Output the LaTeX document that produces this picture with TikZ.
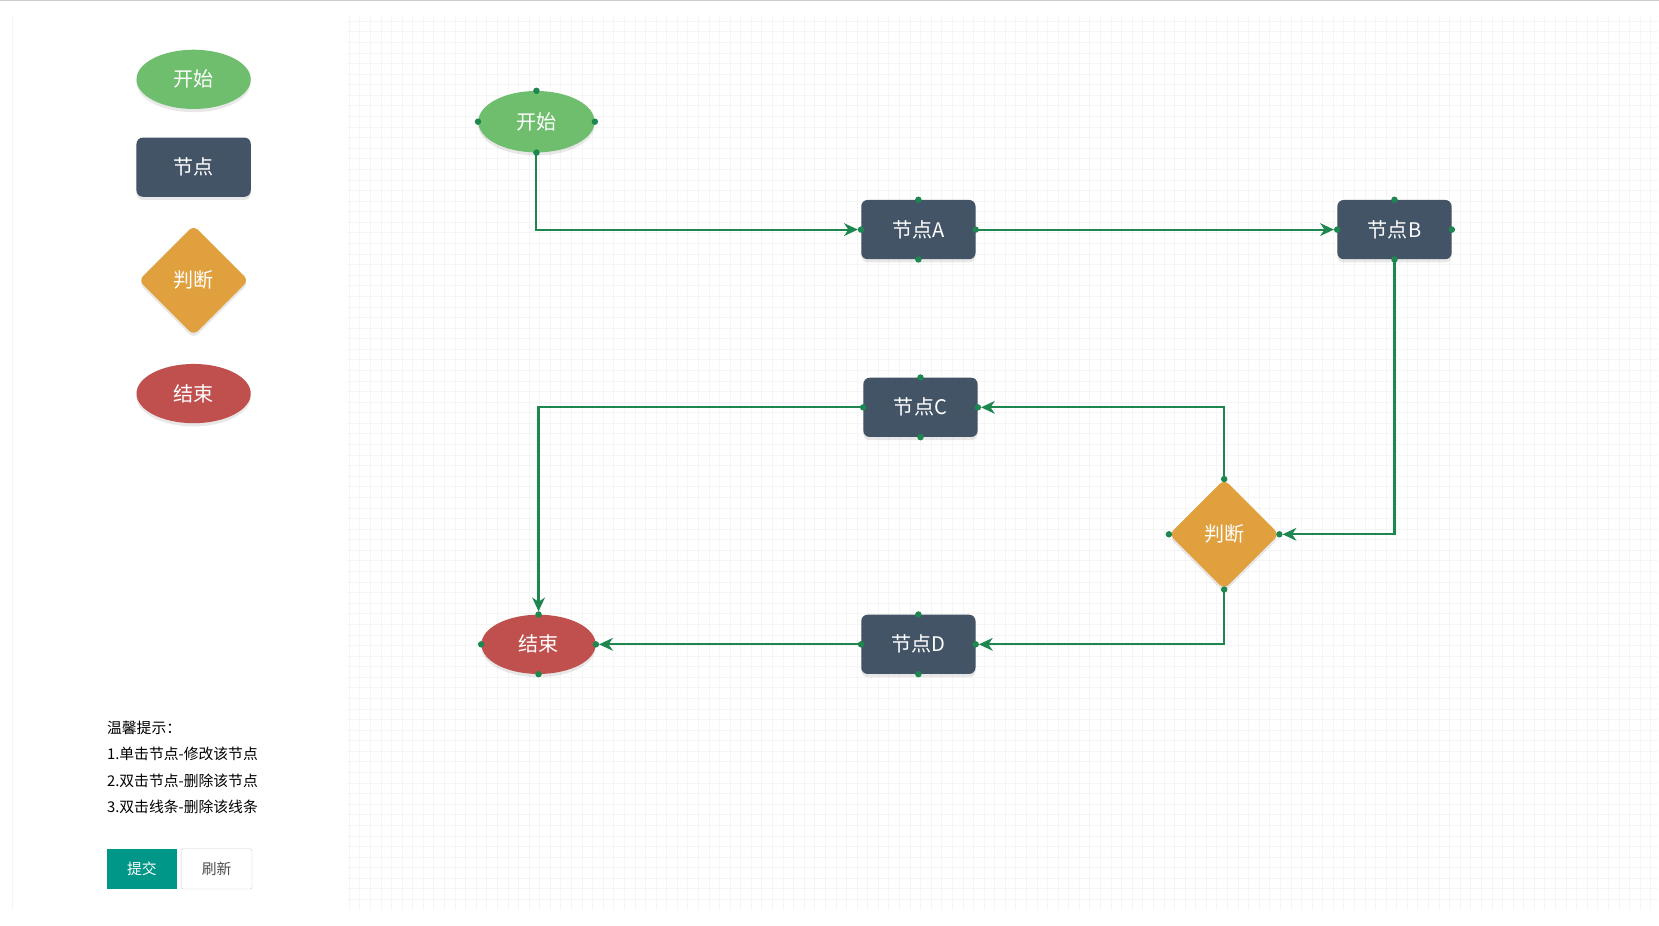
\documentclass[tikz,border=0pt]{standalone}
\usepackage{fontspec}
\setmainfont{Noto Sans CJK SC}
\usetikzlibrary{shapes.geometric,arrows.meta,shadows}
\definecolor{eg}{RGB}{30,135,80}
\definecolor{cstart}{RGB}{110,190,110}
\definecolor{cnode}{RGB}{67,84,102}
\definecolor{cjudge}{RGB}{224,160,62}
\definecolor{cend}{RGB}{192,80,77}
\definecolor{teal}{RGB}{0,150,136}
\tikzset{
 base/.style={text=white,font=\fontsize{19}{19}\selectfont,draw=none,inner sep=0pt,drop shadow={opacity=0.18,shadow xshift=0pt,shadow yshift=-3pt}},
 startn/.style={base,ellipse,fill=cstart,minimum width=108,minimum height=56},
 endn/.style={base,ellipse,fill=cend,minimum width=108,minimum height=56},
 rectn/.style={base,rectangle,rounded corners=6,fill=cnode,minimum width=108,minimum height=56},
 judgen/.style={base,diamond,fill=cjudge,minimum width=104,minimum height=104,rounded corners=6},
 edge/.style={draw=eg,line width=2,-{Stealth[length=13,width=12,inset=4]},shorten >=3},
 port/.style={circle,draw=eg,fill=eg,line width=1,inner sep=0pt,minimum size=5}
}
\begin{document}
\begin{tikzpicture}[x=1pt,y=-1pt]
\useasboundingbox (0,0) rectangle (1568,874.3);
\fill[white] (0,0) rectangle (1568,874.3);
\draw[gray!40] (0,0.5) -- (1568,0.5);
% canvas grid
\begin{scope}
\clip (328,15) rectangle (1567,860);
\foreach \x in {330,340,...,1570} \draw[black!4,line width=0.6] (\x,15) -- (\x,860);
\foreach \y in {20,30,...,860} \draw[black!4,line width=0.6] (328,\y) -- (1567,\y);
\end{scope}
\draw[black!4] (12,15) -- (12,860);
% palette
\node[startn] (p1) at (183,75) {开始};
\node[rectn] (p2) at (183,158) {节点};
\node[judgen] (p3) at (183,265) {判断};
\node[endn] (p4) at (183,372) {结束};
% canvas nodes
\node[startn,minimum width=110,minimum height=58] (s) at (507,115) {开始};
\node[rectn] (a) at (868,217) {节点A};
\node[rectn] (b) at (1318,217) {节点B};
\node[rectn] (c) at (870,385) {节点C};
\node[judgen] (j) at (1157,505) {判断};
\node[rectn] (d) at (868,609) {节点D};
\node[endn] (e) at (509,609) {结束};
% edges
\draw[edge] (s.south) |- (a.west);
\draw[edge] (a.east) -- (b.west);
\draw[edge] (b.south) |- (j.east);
\draw[edge] (j.north) |- (c.east);
\draw[edge] (c.west) -| (e.north);
\draw[edge] (j.south) |- (d.east);
\draw[edge] (d.west) -- (e.east);
% ports
\foreach \n in {s,a,b,c,d,e,j}{
  \foreach \p in {north,south,east,west} \node[port] at (\n.\p) {};
}
% tips
\node[anchor=north west,align=left,font=\fontsize{14}{25}\selectfont,inner sep=0pt] (tips) at (101,681) {温馨提示：\\1.单击节点-修改该节点\\2.双击节点-删除该节点\\3.双击线条-删除该线条};
\node[fill=teal,text=white,minimum width=66,minimum height=38,inner sep=0pt,font=\fontsize{14}{14}\selectfont,anchor=north west] (submit) at (101,802) {提交};
\node[draw=black!20,fill=white,text=black!70,minimum width=67,minimum height=38,inner sep=0pt,font=\fontsize{14}{14}\selectfont,anchor=north west,rounded corners=2] (refresh) at (171,802) {刷新};
\end{tikzpicture}
\end{document}
